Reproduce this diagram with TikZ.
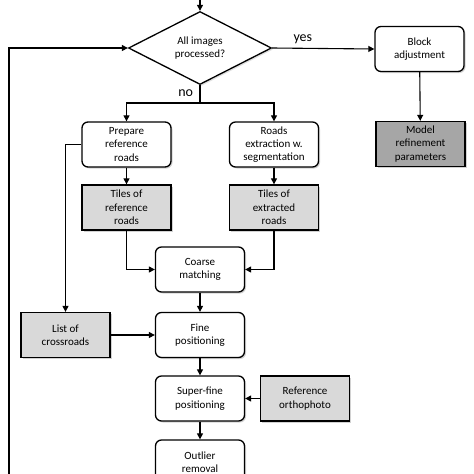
\documentclass[tikz,border=0pt]{standalone}
\usepackage{fontspec}
\setmainfont{Carlito}
\usetikzlibrary{shapes.geometric,arrows.meta,shadows}
\tikzset{
    proc/.style={draw,line width=1.3pt,rounded corners=6pt,fill=white,
        minimum width=89pt,minimum height=45pt,inner sep=2pt,align=center,
        font=\fontsize{11}{13.3}\selectfont,
        drop shadow={shadow xshift=1.5pt,shadow yshift=-1.5pt,fill=black!35}},
    data/.style={proc,rounded corners=0pt,fill=black!15},
    datadark/.style={data,fill=black!35},
    decide/.style={diamond,draw,line width=1.3pt,fill=white,inner sep=0pt,
        minimum width=143pt,minimum height=70pt,align=center,
        font=\fontsize{11}{13.3}\selectfont,
        drop shadow={shadow xshift=1.5pt,shadow yshift=-1.5pt,fill=black!25}},
    arr/.style={-{Triangle[length=6pt,width=6pt]},line width=1.1pt},
    lbl/.style={font=\fontsize{14}{16}\selectfont}
}
\begin{document}
\begin{tikzpicture}[x=1pt,y=-1pt]
                \useasboundingbox
                    (0,0) rectangle (474,474);
                \node[decide] (done) at (200,48) {All images\\processed?};
                \node[proc] (block) at (419.5,49) {Block\\adjustment};
                \node[datadark] (model) at (420.5,144) {Model\\refinement\\parameters};
                \node[proc] (prep) at (126.5,144.5) {Prepare\\reference\\roads};
                \node[proc] (extr) at (274,144.5) {Roads\\extraction w.\\segmentation};
                \node[data] (tilesref) at (126.5,207.5) {Tiles of\\reference\\roads};
                \node[data] (tilesext) at (274,207.5) {Tiles of\\extracted\\roads};
                \node[proc] (coarse) at (200,269.5) {Coarse\\matching};
                \node[data] (cross) at (65.5,335) {List of\\crossroads};
                \node[proc] (fine) at (200,335) {Fine\\positioning};
                \node[proc] (sfine) at (200,398.5) {Super-fine\\positioning};
                \node[data] (ortho) at (305,398.5) {Reference\\orthophoto};
                \node[proc] (outlier) at (200,462.5) {Outlier\\removal};
                \coordinate (start) at (200,-5);
                \coordinate (split) at (200,103);
                \coordinate (loop) at (9,500);
                \draw[arr]
                    (start) -- (done.north);
                \draw[arr]
                    (done.east) -- node[lbl,above=1pt,pos=0.3] {yes} (block.west);
                \draw[arr]
                    (block) -- (model);
                \draw[line width=1.1pt]
                    (done.south) -- node[lbl,left=3pt,pos=0.45] {no} (split);
                \draw[arr]
                    (split) -| (prep.north);
                \draw[arr]
                    (split) -| (extr.north);
                \draw[arr]
                    (prep) -- (tilesref);
                \draw[arr]
                    (extr) -- (tilesext);
                \draw[arr]
                    (prep.west) -| (cross.north);
                \draw[arr]
                    (tilesref.south) |- (coarse.west);
                \draw[arr]
                    (tilesext.south) |- (coarse.east);
                \draw[arr]
                    (coarse) -- (fine);
                \draw[arr]
                    (cross) -- (fine);
                \draw[arr]
                    (fine) -- (sfine);
                \draw[arr]
                    (ortho) -- (sfine);
                \draw[arr]
                    (sfine) -- (outlier);
                \draw[arr]
                    (loop) |- (done.west);
            \end{tikzpicture}
\end{document}
